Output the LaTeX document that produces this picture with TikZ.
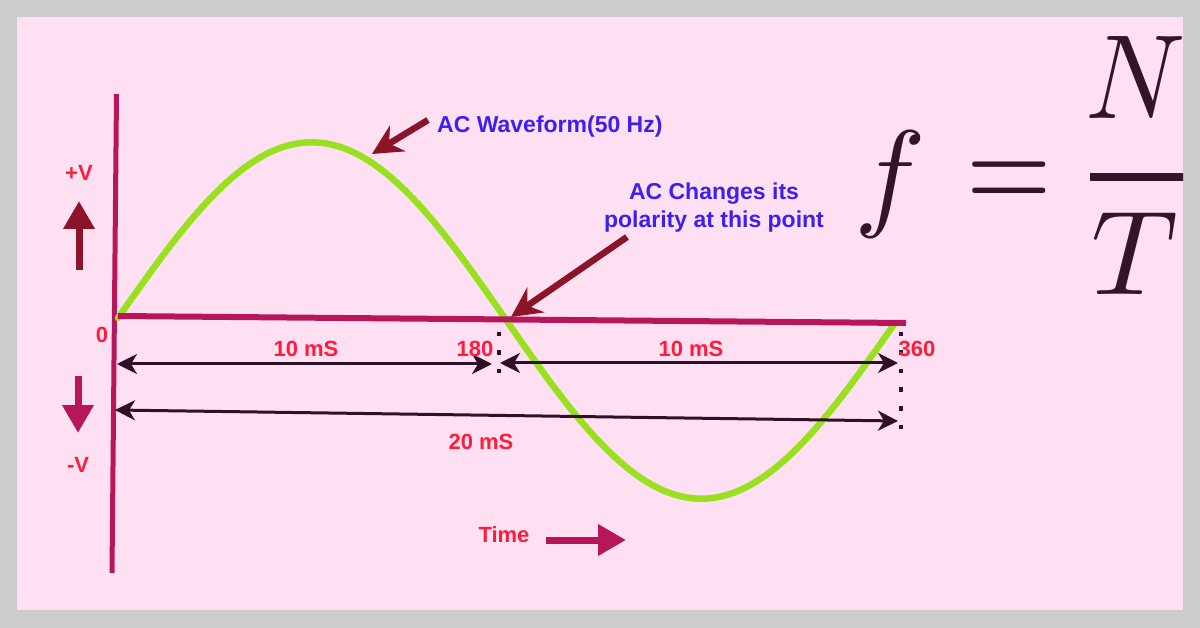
\documentclass[tikz,border=0pt]{standalone}
\usepackage[no-math]{fontspec}
\setmainfont{Liberation Sans}
\usepackage{xcolor}
\usetikzlibrary{arrows.meta,positioning,calc}

\definecolor{bgpink}{RGB}{255,224,242}
\definecolor{framegray}{RGB}{204,204,204}
\definecolor{axismag}{RGB}{184,22,90}
\definecolor{wavegreen}{RGB}{152,224,32}
\definecolor{ptrred}{RGB}{140,20,40}
\definecolor{lblred}{RGB}{255,28,58}
\definecolor{lblblue}{RGB}{60,32,240}
\definecolor{dimdark}{RGB}{48,16,40}
\definecolor{eqdark}{RGB}{54,20,40}

\begin{document}
\begin{tikzpicture}[x=1pt,y=-1pt,
  lbl/.style={font=\fontsize{22}{26}\selectfont\bfseries, text=lblred, inner sep=0, anchor=base},
  note/.style={font=\fontsize{23}{28}\selectfont\bfseries, text=lblblue, inner sep=0},
  dimline/.style={dimdark, line width=3pt, {Stealth[length=20pt,width=20pt,inset=6pt]}-{Stealth[length=20pt,width=20pt,inset=6pt]}},
  pointer/.style={ptrred, line width=6.5pt, -{Stealth[length=30pt,width=30pt,inset=10pt]}},
  dotline/.style={dimdark, line width=4.5pt, dash pattern=on 4.5pt off 14pt},
  bigarrow/.style={line width=7pt, -{Triangle[length=28pt,width=30pt]}},
  eqtext/.style={text=eqdark, inner sep=0, anchor=base}]
% Frame and background
\fill[framegray] (0,0) rectangle (1200,628);
\fill[bgpink] (17,17) rectangle (1183,610);
\useasboundingbox (0,0) rectangle (1200,628);

% Voltage axis
\draw[axismag, line width=5pt] (116.5,94) -- (112,573);

% Sine wave (one cycle)
\draw[wavegreen, line width=6.5pt, line cap=round] plot[domain=0:777, samples=120]
  ({118+\x},{318+0.0064*\x-177*sin(\x/777*360)});

% Time axis
\draw[axismag, line width=6pt] (118,316) -- (906,323);

% Period markers
\coordinate (half top) at (499,332);
\coordinate (half bot) at (499,374);
\coordinate (full top) at (901,332);
\coordinate (full bot) at (901,429);
\draw[dotline] (half top) -- (half bot);
\draw[dotline] (full top) -- (full bot);

% Time spans
\coordinate (zero a) at (117,364);
\coordinate (half a) at (492,364);
\coordinate (half b) at (500,363);
\coordinate (full a) at (898,363);
\coordinate (zero b) at (115,410);
\coordinate (full b) at (898,421);
\draw[dimline] (zero a) -- (half a);
\draw[dimline] (half b) -- (full a);
\draw[dimline] (zero b) -- (full b);

\node[lbl] (lblzero) at (102,343) {0};
\node[lbl] (lblspanA) at (306,356) {10 mS};
\node[lbl] (lbl180) at (475,356) {180};
\node[lbl] (lblspanB) at (691,356) {10 mS};
\node[lbl] (lbl360) at (917,356) {360};
\node[lbl] (lblperiod) at (481,449) {20 mS};

% Polarity arrows
\node[lbl] (lblplus) at (79,181) {+V};
\node[lbl] (lblminus) at (78,472) {-V};
\coordinate (up base) at (79,270);
\coordinate (up tip) at (79,201);
\coordinate (dn base) at (78,376);
\coordinate (dn tip) at (78,433);
\draw[bigarrow, ptrred] (up base) -- (up tip);
\draw[bigarrow, axismag] (dn base) -- (dn tip);

% Time direction
\node[lbl] (lbltime) at (504,542) {Time};
\coordinate (time base) at (546,540);
\coordinate (time tip) at (626,540);
\draw[bigarrow, axismag] (time base) -- (time tip);

% Annotations
\node[note, anchor=base west] (wavelbl) at (437,133) {AC Waveform(50 Hz)};
\coordinate (wave tail) at (428,120);
\coordinate (wave tip) at (372,154);
\draw[pointer] (wave tail) -- (wave tip);

\node[note, align=center] (polarlbl) at (714,208) {AC Changes its\\polarity at this point};
\coordinate (polar tail) at (627,237);
\coordinate (polar tip) at (511,317);
\draw[pointer] (polar tail) -- (polar tip);

% Formula f = N/T
\begin{scope}
\clip (17,17) rectangle (1183,610);
\node[eqtext, scale=12] (fsym) at (890,215) {$f$};
\node[eqtext, xscale=11, yscale=13.5] (eqsign) at (1009,212) {$=$};
\node[eqtext, xscale=11, yscale=12] (numer) at (1136,119) {$N$};
\node[eqtext, scale=12] (denom) at (1135,295) {$T$};
\draw[eqdark, line width=8pt] (1090,177) -- (1190,177);
\end{scope}

\end{tikzpicture}
\end{document}
